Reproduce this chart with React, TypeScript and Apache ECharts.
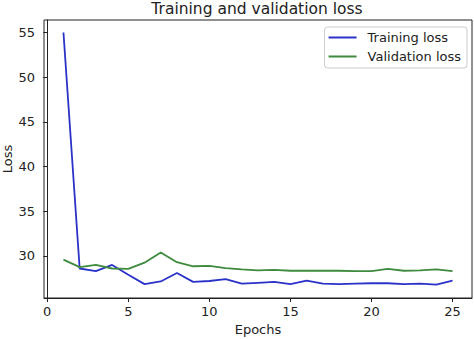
import React, { useEffect, useRef } from "react";
import * as echarts from "echarts";

const epochs = [1, 2, 3, 4, 5, 6, 7, 8, 9, 10, 11, 12, 13, 14, 15, 16, 17, 18, 19, 20, 21, 22, 23, 24, 25];
const trainingLoss = [55.0, 28.6, 28.3, 29.0, 27.9, 26.85, 27.15, 28.1, 27.1, 27.2, 27.4, 26.9, 27.0, 27.1, 26.85, 27.25, 26.9, 26.85, 26.9, 26.95, 26.95, 26.85, 26.9, 26.8, 27.25];
const validationLoss = [29.6, 28.75, 29.0, 28.6, 28.55, 29.25, 30.4, 29.3, 28.85, 28.9, 28.65, 28.5, 28.4, 28.45, 28.35, 28.35, 28.35, 28.35, 28.3, 28.3, 28.55, 28.35, 28.4, 28.5, 28.3];
const xTicks = [0, 5, 10, 15, 20, 25];
const yTicks = [30, 35, 40, 45, 50, 55];

const FONT = "DejaVu Sans";
const INK = "#222";

export default function App() {
  const ref = useRef<HTMLDivElement>(null);

  useEffect(() => {
    if (!ref.current) return;
    const chart = echarts.init(ref.current, undefined, { renderer: "svg" });
    const pair = (ys: number[]) => epochs.map((e, i) => [e, ys[i]]);
    chart.setOption({
      animation: false,
      backgroundColor: "#fff",
      textStyle: { fontFamily: FONT, color: INK },
      title: {
        text: "Training and validation loss",
        left: 257,
        textAlign: "center",
        top: 0,
        padding: [1, 0, 0, 0],
        textStyle: { fontFamily: FONT, fontSize: 15.5, fontWeight: "normal", color: INK },
      },
      legend: {
        orient: "vertical",
        right: 7,
        top: 27,
        backgroundColor: "#fff",
        borderColor: "#ccc",
        borderWidth: 1,
        borderRadius: 3,
        padding: [4, 6, 5, 4],
        itemGap: 6,
        itemWidth: 28,
        itemHeight: 2,
        icon: "rect",
        textStyle: { fontFamily: FONT, fontSize: 13, color: INK, padding: [0, 0, 0, 6] },
        data: ["Training loss", "Validation loss"],
      },
      grid: {
        left: 44,
        right: 2,
        top: 20,
        bottom: 41,
        outerBoundsMode: "none",
        containLabel: false,
        show: true,
        borderColor: "#222",
        borderWidth: 1,
        backgroundColor: "#fff",
      },
      xAxis: {
        type: "value",
        min: -0.2,
        max: 26.2,
        name: "Epochs",
        nameLocation: "middle",
        nameGap: 25,
        nameMoveOverlap: false,
        nameTextStyle: { fontFamily: FONT, fontSize: 13, color: INK },
        axisLine: { show: true, lineStyle: { color: "#222" } },
        axisTick: { show: true, length: 4, customValues: xTicks, lineStyle: { color: "#222" } },
        axisLabel: { customValues: xTicks, fontFamily: FONT, fontSize: 13, color: INK, margin: 7 },
        splitLine: { show: false },
      },
      yAxis: {
        type: "value",
        min: 25.3,
        max: 56.4,
        name: "Loss",
        nameLocation: "middle",
        nameGap: 30,
        nameMoveOverlap: false,
        nameTextStyle: { fontFamily: FONT, fontSize: 13, color: INK },
        axisLine: { show: true, lineStyle: { color: "#222" } },
        axisTick: { show: true, length: 4, customValues: yTicks, lineStyle: { color: "#222" } },
        axisLabel: { customValues: yTicks, fontFamily: FONT, fontSize: 13, color: INK, margin: 9 },
        splitLine: { show: false },
      },
      series: [
        {
          name: "Training loss",
          type: "line",
          data: pair(trainingLoss),
          showSymbol: false,
          symbol: "none",
          color: "#2a32c8",
          lineStyle: { width: 1.8, color: "#2a32c8" },
        },
        {
          name: "Validation loss",
          type: "line",
          data: pair(validationLoss),
          showSymbol: false,
          symbol: "none",
          color: "#3e8a3e",
          lineStyle: { width: 1.8, color: "#3e8a3e" },
        },
      ],
    });
    return () => chart.dispose();
  }, []);

  return <div ref={ref} style={{ width: 474, height: 339, position: "absolute", left: 0, top: 0 }} />;
}
